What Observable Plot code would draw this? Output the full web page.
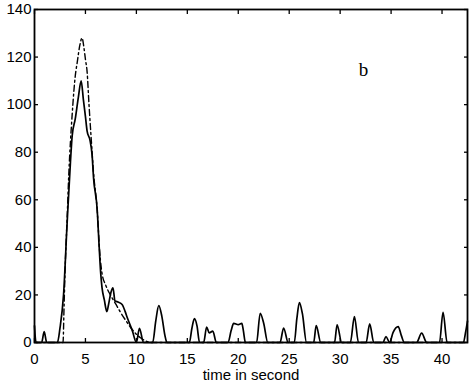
<!DOCTYPE html>
<html><head><meta charset="utf-8">
<script src="https://cdn.jsdelivr.net/npm/d3@7"></script>
<script src="https://cdn.jsdelivr.net/npm/@observablehq/plot@0.6"></script>
<style>body{margin:0;background:#fff}</style>
</head><body><div id="chart"></div>
<script>
// measured signal (solid line)
const measuredTime = [0,0.15,0.7,0.95,1.2,2.25,2.5,2.85,3.2,3.53,3.7,4.0,4.3,4.58,4.8,5.0,5.16,5.45,5.65,5.8,6.15,6.35,6.5,6.63,6.85,7.1,7.27,7.5,7.7,7.9,8.2,8.6,8.9,9.1,9.6,10.0,10.3,10.7,11.6,11.9,12.2,12.5,12.8,13.0,15.2,15.45,15.7,15.95,16.2,16.6,16.9,17.15,17.5,17.85,19.0,19.3,19.55,20.0,20.35,20.5,20.7,21.8,22.15,22.5,22.9,24.1,24.45,24.9,25.5,25.75,26.0,26.3,26.7,27.4,27.65,28.1,29.45,29.7,30.15,31.0,31.4,31.8,32.55,32.9,33.3,34.2,34.5,34.85,35.2,35.7,36.0,36.3,37.5,38.0,38.5,39.75,40.1,40.5,42.1,42.3,42.5];
const measuredValue = [7,0,0,4.6,0,0,6,20,50,76,87,94,103,110,102,95,89,85,79,69,56,40,29,23,18,13,16,21,23,17.5,17,16,13,10.5,5,0,6,0,0,9,15.5,11,3,0,0,6,10,7,0,0,6.5,4,4.8,0,0,5,8,7.5,8,5,0,0,12.3,8,0,0,6.1,0,0,10,16.8,12,0,0,7.1,0,0,7.4,0,0,10.9,0,0,7.8,0,0,2.5,0,4.3,6.7,3,0,0,3.9,0,0,12.7,0,0,4,9];
// fitted curve (dash-dot line)
const fitTime = [0,2.8,2.9,3.0,3.2,3.36,3.7,4.0,4.2,4.45,4.67,4.85,5.0,5.16,5.35,5.56,5.8,6.15,6.4,6.63,7.0,7.45,8.0,8.4,9.0,9.4,10.0,10.4,11.0,11.5,42.5];
const fitValue = [0,0,15,30,52,70,96,112,118,125,128,124,119,114,100,86,71,56,38,29,24,20,16,13,9,6.5,3.5,2,0.5,0,0];
const xTicks = [0,5,10,15,20,25,30,35,40];
const yTicks = [0,20,40,60,80,100,120,140];
const xLabel = "time in second";
const panelLabel = "b";

const measured = measuredTime.map((t, i) => ({t, v: measuredValue[i]}));
const fit = fitTime.map((t, i) => ({t, v: fitValue[i]}));

const chart = Plot.plot({
  width: 474, height: 387,
  marginLeft: 34, marginRight: 7, marginTop: 9, marginBottom: 45,
  x: {domain: [0, 42.5]},
  y: {domain: [0, 140]},
  style: {fontFamily: "'Liberation Sans', Arial, sans-serif", fontSize: "15px", color: "black", background: "white"},
  marks: [
    Plot.axisX(xTicks, {anchor: "bottom", tickSize: -4, tickPadding: 15, label: null, fontSize: 15, strokeWidth: 1.3}),
    Plot.axisX(xTicks, {anchor: "top", tickSize: -4, tickFormat: () => "", label: null, strokeWidth: 1.3}),
    Plot.axisY(yTicks, {anchor: "left", tickSize: -4, tickPadding: 7, label: null, fontSize: 15, strokeWidth: 1.3}),
    Plot.axisY(yTicks, {anchor: "right", tickSize: -4, tickFormat: () => "", label: null, strokeWidth: 1.3}),
    Plot.line(fit, {x: "t", y: "v", stroke: "black", strokeWidth: 1.4, strokeDasharray: "6,3,2,3", curve: "monotone-x"}),
    Plot.line(measured, {x: "t", y: "v", stroke: "black", strokeWidth: 1.7, curve: "monotone-x"}),
    Plot.frame({stroke: "black", strokeWidth: 1.8}),
    Plot.text([xLabel], {frameAnchor: "bottom", dy: 37, fontSize: 15}),
    Plot.text([{x: 32.3, y: 114.5, label: panelLabel}], {x: "x", y: "y", text: "label", fontFamily: "'Liberation Serif', 'Times New Roman', serif", fontSize: 19})
  ]
});
document.getElementById("chart").appendChild(chart);
</script>
</body></html>
